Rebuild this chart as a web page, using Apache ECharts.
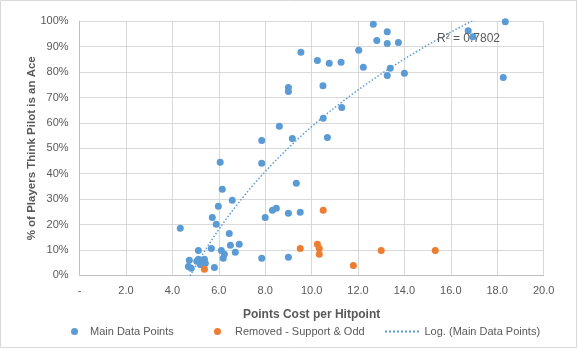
<!DOCTYPE html>
<html><head><meta charset="utf-8">
<script src="https://cdn.jsdelivr.net/npm/echarts@6/dist/echarts.min.js"></script>
<style>html,body{margin:0;padding:0;background:#fff}#c{width:578px;height:349px}</style>
</head><body><div id="c"></div>
<script>
// Main data points: cost per hitpoint (x) and % of players (y)
var mainX = [18.35,16.75,16.95,18.26,12.66,13.26,12.81,13.26,13.74,12.03,11.27,12.23,13.39,13.26,14.0,11.30,9.54,10.25,10.76,9.0,9.0,10.49,10.5,8.61,9.17,10.68,7.85,6.06,7.85,9.34,6.15,6.58,5.98,8.31,8.48,9.0,9.51,8.0,5.72,5.89,4.34,6.45,6.88,6.5,5.68,5.12,6.11,6.24,6.71,6.19,7.85,9.0,4.73,5.12,5.38,5.25,5.42,4.69,4.81,5.81,5.2,5.05];
var mainY = [99.8,96.3,93.9,77.9,98.8,95.9,92.4,91.3,91.7,88.6,83.9,81.9,81.5,78.7,79.5,66.1,87.8,84.6,83.5,73.9,72.4,74.6,61.8,58.7,53.9,54.3,53.1,44.5,44.1,36.2,33.9,29.5,27.2,25.6,26.4,24.4,24.8,22.8,22.8,20.1,18.5,16.5,12.2,11.8,10.6,9.8,9.8,8.3,9.1,6.7,6.7,7.1,5.9,6.3,6.3,5.1,4.7,3.5,2.8,3.1,4.3,5.5];
// Removed points
var remX = [5.38,10.5,9.51,10.25,10.33,10.33,11.8,13.0,15.33];
var remY = [2.4,25.6,10.6,12.2,10.6,8.3,3.9,9.8,9.8];
var xTicks = ['-','2.0','4.0','6.0','8.0','10.0','12.0','14.0','16.0','18.0','20.0'];
var yTicks = ['0%','10%','20%','30%','40%','50%','60%','70%','80%','90%','100%'];
var seriesNames = ['Main Data Points','Removed - Support & Odd','Log. (Main Data Points)'];
var r2Text = 'R² = 0.7802';

// logarithmic least-squares trendline (as Excel does) on main points
var n = mainX.length, sl=0, sy=0, sll=0, sly=0;
for (var i=0;i<n;i++){var l=Math.log(mainX[i]); sl+=l; sy+=mainY[i]; sll+=l*l; sly+=l*mainY[i];}
var a = (n*sly - sl*sy)/(n*sll - sl*sl), b = (sy - a*sl)/n;
var minX = Math.min.apply(null, mainX), maxX = Math.max.apply(null, mainX);
var trend = [];
for (var k=0;k<=200;k++){var xv=minX+(maxX-minX)*k/200; trend.push([xv, a*Math.log(xv)+b]);}

var mainData = mainX.map(function(x,i){return [x, mainY[i]];});
var remData = remX.map(function(x,i){return [x, remY[i]];});

// dotted legend glyph for the trendline
var dotPath = 'path://';
for (var d=0; d<9; d++){ dotPath += 'M'+(d*4)+',0h2v2h-2z'; }

var txt = '#595959', font = 'Liberation Sans';
var chart = echarts.init(document.getElementById('c'), null, {renderer:'canvas'});
chart.setOption({
  animation:false,
  textStyle:{fontFamily:font},
  grid:{left:79.6, right:34.4, top:21.3, bottom:73.7, containLabel:false},
  xAxis:{type:'value', min:0, max:20, interval:2,
    name:'Points Cost per Hitpoint', nameLocation:'middle', nameGap:33, nameMoveOverlap:false,
    nameTextStyle:{color:txt, fontSize:12, fontWeight:'bold', fontFamily:font},
    axisLine:{show:true, lineStyle:{color:'#bfbfbf'}}, axisTick:{show:false},
    axisLabel:{color:txt, fontSize:11, margin:10, formatter:function(v){return xTicks[Math.round(v/2)];}},
    splitLine:{show:true, lineStyle:{color:'#d9d9d9'}}},
  yAxis:{type:'value', min:0, max:100, interval:10,
    name:'% of Players Think Pilot is an Ace', nameLocation:'middle', nameGap:48, nameRotate:90, nameMoveOverlap:false,
    nameTextStyle:{color:txt, fontSize:11.5, fontWeight:'bold', fontFamily:font, verticalAlign:'middle'},
    axisLine:{show:true, lineStyle:{color:'#bfbfbf'}}, axisTick:{show:false},
    axisLabel:{color:txt, fontSize:11, margin:11, formatter:function(v){return yTicks[Math.round(v/10)];}},
    splitLine:{show:true, lineStyle:{color:'#d9d9d9'}}},
  legend:[
    {data:[seriesNames[0]], left:66, top:321, icon:'circle', itemWidth:7, itemHeight:7,
     textStyle:{color:txt, fontSize:11, padding:[0,0,0,7]}},
    {data:[seriesNames[1]], left:209, top:321, icon:'circle', itemWidth:7, itemHeight:7,
     textStyle:{color:txt, fontSize:11, padding:[0,0,0,9]}},
    {data:[{name:seriesNames[2], icon:dotPath}], left:380, top:321, itemWidth:35, itemHeight:2,
     textStyle:{color:txt, fontSize:11, padding:[0,0,0,0]}}
  ],
  series:[
    {name:seriesNames[0], type:'scatter', data:mainData, symbolSize:7, itemStyle:{color:'#5B9BD5', opacity:1}, z:3},
    {name:seriesNames[1], type:'scatter', data:remData, symbolSize:7, itemStyle:{color:'#ED7D31', opacity:1}, z:3},
    {name:seriesNames[2], type:'line', data:trend, showSymbol:false, symbol:'none', clip:true, z:2,
     lineStyle:{color:'#5B9BD5', width:1.5, type:[1.5,2]}, itemStyle:{color:'#5B9BD5'}}
  ],
  graphic:[
    {type:'rect', shape:{x:0.5,y:0.5,width:576,height:347}, style:{fill:'none', stroke:'#d9d9d9', lineWidth:1}, silent:true},
    {type:'text', left:437, top:33, style:{text:r2Text, fill:txt, fontSize:12, fontFamily:font}, z:10}
  ]
});
</script></body></html>
